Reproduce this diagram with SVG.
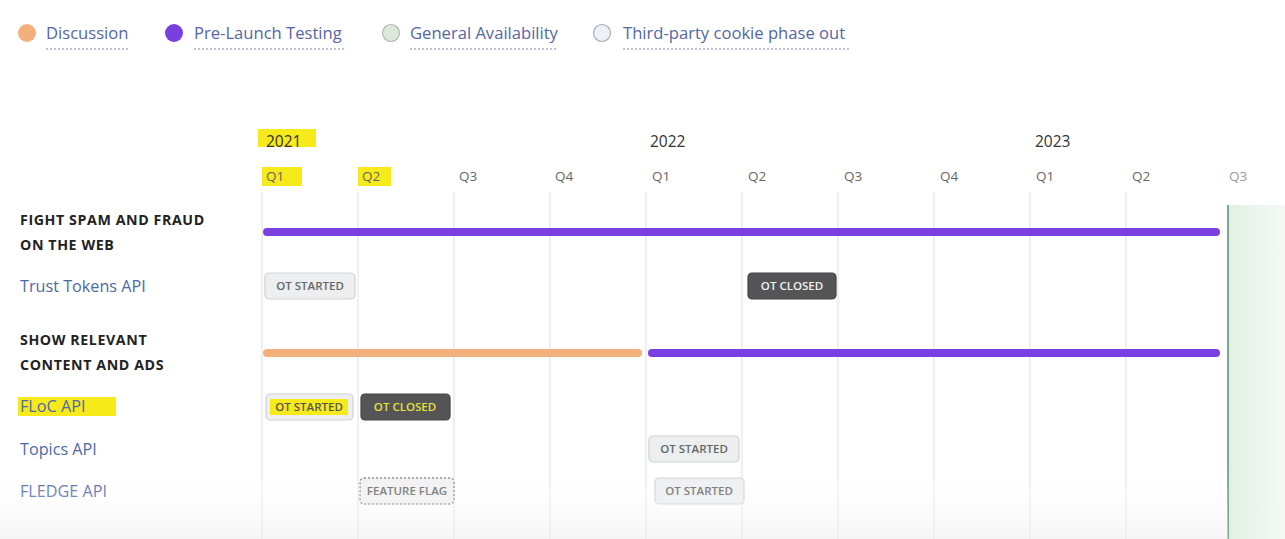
<svg xmlns="http://www.w3.org/2000/svg" width="1285" height="539" viewBox="0 0 1285 539">
<defs>
<style>
.leg{font-family:"Open Sans","Liberation Sans",sans-serif;font-size:16.6px;fill:#5466a6}
.uline{stroke:#7a86b0;stroke-width:1;stroke-dasharray:2 2}
.grid{stroke:#e6e6e6;stroke-width:1.2}
.yr{font-family:"Open Sans","Liberation Sans",sans-serif;font-size:15.5px;fill:#333}
.q{font-family:"Open Sans","Liberation Sans",sans-serif;font-size:13.5px;fill:#666}
.hl{fill:#f7ea1a}
.grp{font-family:"Open Sans","Liberation Sans",sans-serif;font-size:14.2px;font-weight:bold;fill:#222;letter-spacing:0.6px}
.api{font-family:"Open Sans","Liberation Sans",sans-serif;font-size:16.2px;fill:#4d6aa6}
.bar{stroke-width:8;stroke-linecap:round;fill:none}
.tagL{fill:#eceef0;stroke:#cfd1d4;stroke-width:1.2}
.tagD{fill:#555558;stroke:#444;stroke-width:1.2}
.tagF{fill:#f1f1f1;stroke:#888;stroke-width:1.4;stroke-dasharray:2 2}
.tt{font-family:"Open Sans","Liberation Sans",sans-serif;font-size:11.5px;font-weight:600;text-anchor:middle;fill:#666}
.tw{font-family:"Open Sans","Liberation Sans",sans-serif;font-size:11.5px;font-weight:600;text-anchor:middle;fill:#f0f0f0}
</style>
<linearGradient id="ga" x1="0" y1="0" x2="1" y2="0">
<stop offset="0" stop-color="#e2efe4"/>
<stop offset="1" stop-color="#f4f9f5"/>
</linearGradient>
<linearGradient id="fade" x1="0" y1="0" x2="0" y2="1">
<stop offset="0" stop-color="#ffffff" stop-opacity="0"/>
<stop offset="1" stop-color="#eeeeee" stop-opacity="0.6"/>
</linearGradient>
</defs>
<rect width="1285" height="539" fill="#ffffff"/>

<g id="legend">
<circle cx="27" cy="33" r="9" fill="#f3b07c"/>
<text class="leg" x="46" y="39">Discussion</text>
<line class="uline" x1="46" y1="49" x2="130" y2="49"/>
<circle cx="174" cy="33" r="9" fill="#7a3fe0"/>
<text class="leg" x="194" y="39">Pre-Launch Testing</text>
<line class="uline" x1="194" y1="49" x2="346" y2="49"/>
<circle cx="391" cy="33" r="8.5" fill="#dbe8da" stroke="#b0b8b0" stroke-width="1.2"/>
<text class="leg" x="410" y="39">General Availability</text>
<line class="uline" x1="410" y1="49" x2="558" y2="49"/>
<circle cx="602" cy="33" r="8.5" fill="#eef0f8" stroke="#a8acb8" stroke-width="1.2"/>
<text class="leg" x="623" y="39">Third-party cookie phase out</text>
<line class="uline" x1="623" y1="49" x2="851" y2="49"/>
</g>

<g id="ga-region">
<rect x="1229" y="205" width="56" height="334" fill="url(#ga)"/>
<line x1="1228" y1="205" x2="1228" y2="539" stroke="#7fa890" stroke-width="2"/>
</g>

<g id="grid">
<line class="grid" x1="262" y1="192" x2="262" y2="539"/>
<line class="grid" x1="358" y1="192" x2="358" y2="539"/>
<line class="grid" x1="454" y1="192" x2="454" y2="539"/>
<line class="grid" x1="550" y1="192" x2="550" y2="539"/>
<line class="grid" x1="646" y1="192" x2="646" y2="539"/>
<line class="grid" x1="742" y1="192" x2="742" y2="539"/>
<line class="grid" x1="838" y1="192" x2="838" y2="539"/>
<line class="grid" x1="934" y1="192" x2="934" y2="539"/>
<line class="grid" x1="1030" y1="192" x2="1030" y2="539"/>
<line class="grid" x1="1126" y1="192" x2="1126" y2="539"/>
</g>

<g id="axis">
<rect class="hl" x="258" y="129" width="58" height="18"/>
<text class="yr" x="266" y="147">2021</text>
<text class="yr" x="650" y="147">2022</text>
<text class="yr" x="1035" y="147">2023</text>
<rect class="hl" x="262" y="167" width="40" height="19"/>
<rect class="hl" x="358" y="167" width="33" height="19"/>
<text class="q" x="266" y="181">Q1</text>
<text class="q" x="362" y="181">Q2</text>
<text class="q" x="459" y="181">Q3</text>
<text class="q" x="555" y="181">Q4</text>
<text class="q" x="652" y="181">Q1</text>
<text class="q" x="748" y="181">Q2</text>
<text class="q" x="844" y="181">Q3</text>
<text class="q" x="940" y="181">Q4</text>
<text class="q" x="1036" y="181">Q1</text>
<text class="q" x="1132" y="181">Q2</text>
<text class="q" x="1229" y="181" style="fill:#999">Q3</text>
</g>

<g id="group-spam">
<text class="grp" x="20" y="225">FIGHT SPAM AND FRAUD</text>
<text class="grp" x="20" y="250">ON THE WEB</text>
<line class="bar" x1="267" y1="232" x2="1216" y2="232" stroke="#7a3fe0"/>
</g>

<g id="trust-tokens">
<text class="api" x="20" y="292">Trust Tokens API</text>
<rect class="tagL" x="265" y="273" width="90" height="26" rx="4"/>
<text class="tt" x="310" y="290">OT STARTED</text>
<rect class="tagD" x="748" y="273" width="88" height="26" rx="4"/>
<text class="tw" x="792" y="290">OT CLOSED</text>
</g>

<g id="group-ads">
<text class="grp" x="20" y="345">SHOW RELEVANT</text>
<text class="grp" x="20" y="370">CONTENT AND ADS</text>
<line class="bar" x1="267" y1="353" x2="638" y2="353" stroke="#f3b07c"/>
<line class="bar" x1="652" y1="353" x2="1216" y2="353" stroke="#7a3fe0"/>
</g>

<g id="floc">
<rect class="hl" x="18" y="397" width="98" height="19"/>
<text class="api" x="20" y="412">FLoC API</text>
<rect class="tagL" x="266" y="394" width="87" height="26" rx="4"/>
<rect class="hl" x="270" y="399" width="78" height="16"/>
<text class="tt" x="309" y="411" style="fill:#555">OT STARTED</text>
<rect class="tagD" x="361" y="394" width="89" height="26" rx="4"/>
<text class="tw" x="405" y="411" style="fill:#e6e03a">OT CLOSED</text>
</g>

<g id="topics">
<text class="api" x="20" y="455">Topics API</text>
<rect class="tagL" x="649" y="436" width="90" height="26" rx="4"/>
<text class="tt" x="694" y="453">OT STARTED</text>
</g>

<g id="fledge">
<text class="api" x="20" y="497">FLEDGE API</text>
<rect class="tagF" x="360" y="478" width="94" height="26" rx="4"/>
<text class="tt" x="407" y="495">FEATURE FLAG</text>
<rect class="tagL" x="655" y="478" width="89" height="26" rx="4"/>
<text class="tt" x="699" y="495">OT STARTED</text>
</g>

<rect x="0" y="470" width="1228" height="69" fill="url(#fade)"/>
</svg>
